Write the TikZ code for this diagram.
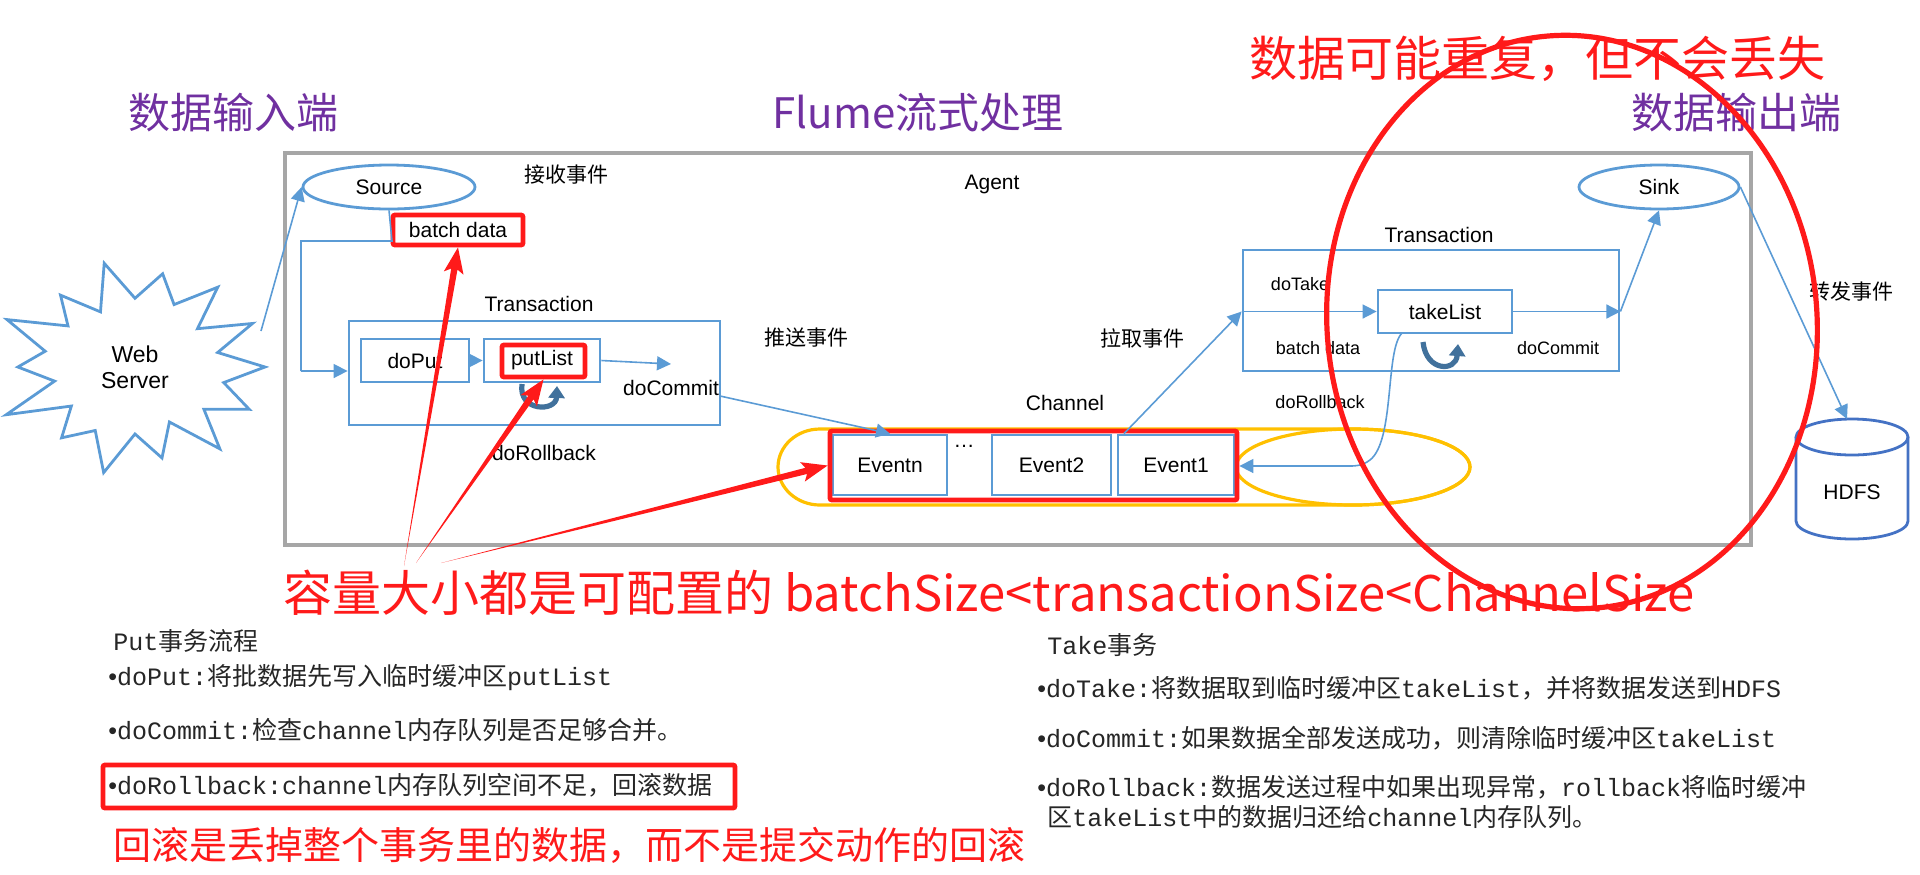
\documentclass[tikz,border=0pt]{standalone}
\usepackage{fontspec}
\setmainfont{Liberation Sans}
\newfontfamily\cjk{Noto Sans CJK SC}
\newfontfamily\mono{Liberation Mono}
\usetikzlibrary{arrows.meta,calc,positioning,fit,shapes.geometric}
\definecolor{bl}{HTML}{5B9BD5}
\definecolor{dbl}{HTML}{41719C}
\definecolor{pu}{HTML}{7030A0}
\definecolor{rd}{HTML}{FF1A1A}
\definecolor{yl}{HTML}{FFC000}
\definecolor{gr}{HTML}{A6A6A6}
\definecolor{hd}{HTML}{4472C4}
\tikzset{
 bbox/.style={draw=bl,line width=1.4pt,inner sep=0pt},
 rbox/.style={draw=rd,line width=2.4pt,rounded corners=1pt,inner sep=0pt},
 lab/.style={font=\fontsize{10.5}{12}\selectfont,inner sep=0pt},
 slab/.style={font=\fontsize{9}{11}\selectfont,inner sep=0pt},
 clab/.style={font=\cjk\fontsize{10.5}{12}\selectfont,inner sep=0pt},
 conn/.style={draw=bl,line width=0.8pt,-{Triangle[width=7pt,length=7pt]}},
 title/.style={font=\cjk\fontsize{21}{24}\selectfont,text=pu,inner sep=0pt},
 txt/.style={anchor=west,inner sep=0pt,font=\fontsize{12.5}{14}\selectfont,text=black!85},
 loop/.style={draw=dbl,line width=2.6pt,-{Triangle[width=8pt,length=6pt]}}
}
\newcommand\redarr[2]{%
 \fill[rd] (#1) -- ($(#2)!11pt!(#1)!1.6pt!90:(#2)$) -- ($(#2)!13pt!(#1)!5pt!90:(#2)$) -- (#2)
  -- ($(#2)!13pt!(#1)!5pt!-90:(#2)$) -- ($(#2)!11pt!(#1)!1.6pt!-90:(#2)$) -- cycle;}
\begin{document}
\begin{tikzpicture}[x=0.5pt,y=-0.5pt]
\useasboundingbox (0,0) rectangle (1920,874);
% titles
\node[title] (t1) at (233,113) {数据输入端};
\node[title] (t2) at (918,113) {Flume流式处理};
\node[title] (t3) at (1736,113) {数据输出端};
\node[font=\cjk\fontsize{24}{28}\selectfont,text=rd,inner sep=0pt] (t4) at (1537,59) {数据可能重复，但不会丢失};
% agent
\draw[gr,line width=1.6pt] (285,153) rectangle (1751,545);
\node[lab] (agent) at (992,184) {Agent};
\node[clab] at (566,175) {接收事件};
% source
\node[draw=bl,line width=1.4pt,ellipse,minimum width=86pt,minimum height=22pt,inner sep=0pt,lab] (src) at (389,187) {Source};
\node[rbox,fit={(393,215)(523,245)}] (bd) {};
\node[lab] at (bd.center) {batch data};
% web server
\coordinate (ws) at (135,367);
\draw[bl,line width=1.4pt] ($(ws)+(0:130)$) \foreach \i in {1,...,27}{
 -- ($(ws)+({\i*360/28}:{(mod(\i,2)==0 ? 1+0.1*sin(\i*97) : 0.66+0.05*sin(\i*53))*130} and {(mod(\i,2)==0 ? 1+0.1*sin(\i*97) : 0.66+0.05*sin(\i*53))*100})$)} -- cycle;
\node[font=\fontsize{11.5}{13}\selectfont,inner sep=0pt,align=center] (web) at (ws) {Web\\Server};
\coordinate (wsr) at (261,331);
\draw[conn] (wsr) -- (src.west);
% put transaction
\node[lab] at (539,304) {Transaction};
\node[bbox,fit={(349,321)(720,425)}] (ptx) {};
\node[bbox,fit={(361,339)(469,382)}] (doput) {};
\node[lab] at (doput.center) {doPut};
\node[bbox,fit={(484,339)(600,382)}] (pl) {};
\node[rbox,fit={(502,345)(585,377)}] (plr) {};
\node[lab] at (pl.center) {putList};
\draw[conn] (doput.east) -- (pl.west);
\coordinate (pc) at (671,364);
\draw[conn] (pl.east) -- (pc);
\node[lab] at (671,388) {doCommit};
\draw[loop] (522,384) .. controls (518,412) and (556,412) .. (557,386);
\node[lab] at (544,453) {doRollback};
\draw[bl,line width=0.8pt] (src.south) -- (392,241) -- (301,241) -- (301,371);
\draw[conn] (301,371) -- (ptx.west |- 0,371);
\node[clab] at (806,338) {推送事件};
% channel
\node[lab] at (1065,403) {Channel};
\draw[yl,line width=1.6pt] (1470,467) arc[start angle=0,end angle=-90,x radius=117,y radius=38] -- (820,429) arc[start angle=-90,end angle=-270,x radius=42,y radius=38] -- (1353,505) arc[start angle=90,end angle=0,x radius=117,y radius=38];
\draw[yl,line width=1.6pt] (1353,467) ellipse[x radius=117,y radius=38];
\fill[white] (830,431) rectangle (1237,500);
\node[bbox,fit={(833,435)(947,495)}] (en) {};
\node[lab] at (en.center) {Eventn};
\node[lab] at (964,446) {…};
\node[bbox,fit={(992,435)(1111,495)}] (e2) {};
\node[lab] at (e2.center) {Event2};
\node[bbox,fit={(1118,435)(1234,495)}] (e1) {};
\node[lab] at (e1.center) {Event1};
\node[rbox,fit={(830,431)(1237,500)}] (evr) {};
\coordinate (ptxo) at (720,396);
\draw[conn] (ptxo) -- (en.north);
% take transaction
\node[lab] at (1439,235) {Transaction};
\node[bbox,fit={(1243,250)(1619,371)}] (ttx) {};
\node[slab] at (1300,284) {doTake};
\node[bbox,fit={(1378,290)(1512,333)}] (tl) {};
\node[lab] at (tl.center) {takeList};
\draw[conn] (ttx.west |- tl.west) -- (tl.west);
\draw[conn] (tl.east) -- (ttx.east |- tl.east);
\node[slab] at (1318,348) {batch data};
\node[slab] at (1558,348) {doCommit};
\draw[loop] (1423,342) .. controls (1426,372) and (1456,372) .. (1458,344);
\node[slab] at (1320,402) {doRollback};
\draw[conn] (e1.north) ++(-52,0) -- (ttx.west |- tl.west);
\draw[conn] (1402,333) .. controls (1385,350) and (1395,440) .. (1370,460) .. controls (1362,466) and (1355,466) .. (1350,466) -- (evr.east |- 0,466);
\node[clab] at (1142,338) {拉取事件};
% sink
\node[draw=bl,line width=1.4pt,ellipse,minimum width=80pt,minimum height=22pt,inner sep=0pt,lab] (sink) at (1659,187) {Sink};
\draw[conn] (ttx.east |- tl.east) -- (sink.south);
\node[clab] at (1851,291) {转发事件};
% HDFS
\node[minimum width=56pt,minimum height=60pt,inner sep=0pt] (hdfs) at (1852,479) {};
\draw[hd,line width=1.4pt] (1852,437) ellipse[x radius=56,y radius=18];
\draw[hd,line width=1.4pt] (1796,437) -- (1796,521) arc[start angle=180,end angle=0,x radius=56,y radius=18] -- (1908,437);
\node[lab] at (1852,492) {HDFS};
\draw[conn] (sink.east) -- (1847,419);
% big red ellipse
\draw[rd,line width=2.6pt,rotate around={5:(1572,322)}] (1572,322) ellipse[x radius=245,y radius=287];
% red arrows
\coordinate (a1) at (404,566);
\coordinate (a2) at (416,563);
\coordinate (a3) at (441,563);
\redarr{a1}{bd.south}
\redarr{a2}{plr.south}
\redarr{a3}{evr.west}
% big red text
\node[font=\cjk\fontsize{24.5}{28}\selectfont,text=rd,inner sep=0pt] (cap) at (989,593) {容量大小都是可配置的 batchSize<transactionSize<ChannelSize};
% bottom left
\node[txt] (p0) at (113,641) {{\mono Put}{\cjk 事务流程}};
\node[txt] (p1) at (108,678) {•{\mono doPut:}{\cjk 将批数据先写入临时缓冲区}{\mono putList}};
\node[txt] (p2) at (108,730) {•{\mono doCommit:}{\cjk 检查}{\mono channel}{\cjk 内存队列是否足够合并。}};
\node[txt] (p3) at (108,785) {•{\mono doRollback:channel}{\cjk 内存队列空间不足，回滚数据}};
\node[rbox,fit={(103,765)(735,808)}] (p3r) {};
\node[font=\cjk\fontsize{19}{22}\selectfont,text=rd,inner sep=0pt,anchor=west] (p4) at (113,845) {回滚是丢掉整个事务里的数据，而不是提交动作的回滚};
% bottom right
\node[txt] (q0) at (1047,645) {{\mono Take}{\cjk 事务}};
\node[txt] (q1) at (1037,688) {•{\mono doTake:}{\cjk 将数据取到临时缓冲区}{\mono takeList}{\cjk ，并将数据发送到}{\mono HDFS}};
\node[txt] (q2) at (1037,738) {•{\mono doCommit:}{\cjk 如果数据全部发送成功，则清除临时缓冲区}{\mono takeList}};
\node[txt] (q3) at (1037,787) {•{\mono doRollback:}{\cjk 数据发送过程中如果出现异常，}{\mono rollback}{\cjk 将临时缓冲}};
\node[txt] (q4) at (1047,817) {{\cjk 区}{\mono takeList}{\cjk 中的数据归还给}{\mono channel}{\cjk 内存队列。}};
\end{tikzpicture}
\end{document}
